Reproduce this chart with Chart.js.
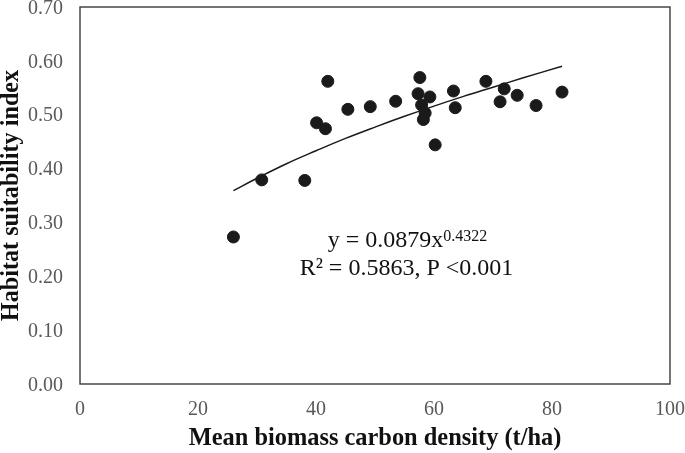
<!DOCTYPE html>
<html>
<head>
<meta charset="utf-8">
<script src="https://cdn.jsdelivr.net/npm/chart.js@4"></script>
<style>
  html, body { margin: 0; padding: 0; background: #fff; }
  #wrap { width: 685px; height: 453px; }
</style>
</head>
<body>
<div id="wrap"><canvas id="hsi"></canvas></div>
<script>
// carbon density (t/ha) vs habitat suitability index
const carbonDensity = [26.0, 30.8, 38.1, 40.1, 41.6, 42.0, 45.4, 49.2, 53.5, 57.6, 57.3, 59.3,
  57.9, 58.5, 58.2, 60.2, 63.3, 63.6, 68.8, 71.9, 71.2, 74.1, 77.3, 81.7];
const suitability = [0.273, 0.379, 0.378, 0.485, 0.474, 0.562, 0.510, 0.515, 0.525, 0.569, 0.539, 0.533,
  0.518, 0.503, 0.491, 0.444, 0.544, 0.513, 0.562, 0.548, 0.524, 0.536, 0.517, 0.542];

// power trend line as drawn in the figure
const trendX = [26, 30, 35, 40, 45, 50, 55, 60, 65, 70, 75, 81.7];
const trendY = [0.359, 0.382, 0.409, 0.433, 0.456, 0.477, 0.497, 0.516, 0.534, 0.551, 0.568, 0.590];

const xTicks = [0, 20, 40, 60, 80, 100];
const yTicks = [0, 0.1, 0.2, 0.3, 0.4, 0.5, 0.6, 0.7];

const eqMain = 'y = 0.0879x';
const eqPower = '0.4322';
const eqStats = 'R\u00B2 = 0.5863, P <0.001';

const serif = "'Liberation Serif', 'Times New Roman', serif";

const boxAndText = {
  id: 'boxAndText',
  afterDraw(chart) {
    const { ctx, chartArea: a, scales } = chart;
    ctx.save();
    ctx.strokeStyle = '#3a3a3a';
    ctx.lineWidth = 1.4;
    ctx.strokeRect(a.left, a.top, a.right - a.left, a.bottom - a.top);

    // equation text
    const cx = scales.x.getPixelForValue(55.5);
    const y1 = scales.y.getPixelForValue(0.254);
    const y2 = scales.y.getPixelForValue(0.2015);
    ctx.fillStyle = '#111';
    ctx.textBaseline = 'alphabetic';
    ctx.font = '24px ' + serif;
    const w1 = ctx.measureText(eqMain).width;
    ctx.font = '16px ' + serif;
    const w2 = ctx.measureText(eqPower).width;
    const sx = cx - (w1 + w2) / 2;
    ctx.font = '24px ' + serif;
    ctx.textAlign = 'left';
    ctx.fillText(eqMain, sx, y1);
    ctx.font = '16px ' + serif;
    ctx.fillText(eqPower, sx + w1, y1 - 6);
    ctx.font = '24px ' + serif;
    ctx.textAlign = 'center';
    ctx.fillText(eqStats, cx - 1, y2);
    ctx.restore();
  }
};

const ctx = document.getElementById('hsi');
new Chart(ctx, {
  type: 'scatter',
  data: {
    datasets: [{
      label: 'HSI',
      data: carbonDensity.map((x, i) => ({ x: x, y: suitability[i] })),
      backgroundColor: '#1a1a1a',
      borderColor: '#1a1a1a',
      pointRadius: 6,
      pointHoverRadius: 6
    }, {
      type: 'line',
      label: 'Power fit',
      data: trendX.map((x, i) => ({ x: x, y: trendY[i] })),
      borderColor: '#1a1a1a',
      borderWidth: 1.5,
      pointRadius: 0,
      fill: false,
      tension: 0.4
    }]
  },
  options: {
    responsive: true,
    maintainAspectRatio: false,
    animation: false,
    layout: { padding: { top: 7, right: 15, left: 0, bottom: 0 } },
    plugins: { legend: { display: false }, tooltip: { enabled: false } },
    scales: {
      x: {
        type: 'linear',
        min: 0, max: 100,
        afterBuildTicks: (s) => { s.ticks = xTicks.map(v => ({ value: v })); },
        afterFit: (s) => { s.height = 69; s.paddingLeft = 0; s.paddingRight = 0; },
        grid: { display: false, drawTicks: false },
        border: { display: false },
        ticks: {
          padding: 14,
          color: '#595959',
          font: { family: serif, size: 20 }
        },
        title: {
          display: true,
          text: 'Mean biomass carbon density (t/ha)',
          color: '#111',
          padding: { top: 1, bottom: 0 },
          font: { family: serif, size: 24.4, weight: 'bold', lineHeight: 1.2 }
        }
      },
      y: {
        min: 0, max: 0.7,
        afterBuildTicks: (s) => { s.ticks = yTicks.map(v => ({ value: v })); },
        afterFit: (s) => { s.width = 80; s.paddingTop = 0; s.paddingBottom = 0; },
        grid: { display: false, drawTicks: false },
        border: { display: false },
        ticks: {
          padding: 17,
          labelOffset: 1.5,
          color: '#595959',
          font: { family: serif, size: 20 },
          callback: (v) => Number(v).toFixed(2)
        },
        title: {
          display: true,
          text: 'Habitat suitability index',
          color: '#111',
          padding: { top: 0, bottom: 0 },
          font: { family: serif, size: 24.2, weight: 'bold', lineHeight: 0.95 }
        }
      }
    }
  },
  plugins: [boxAndText]
});
</script>
</body>
</html>
